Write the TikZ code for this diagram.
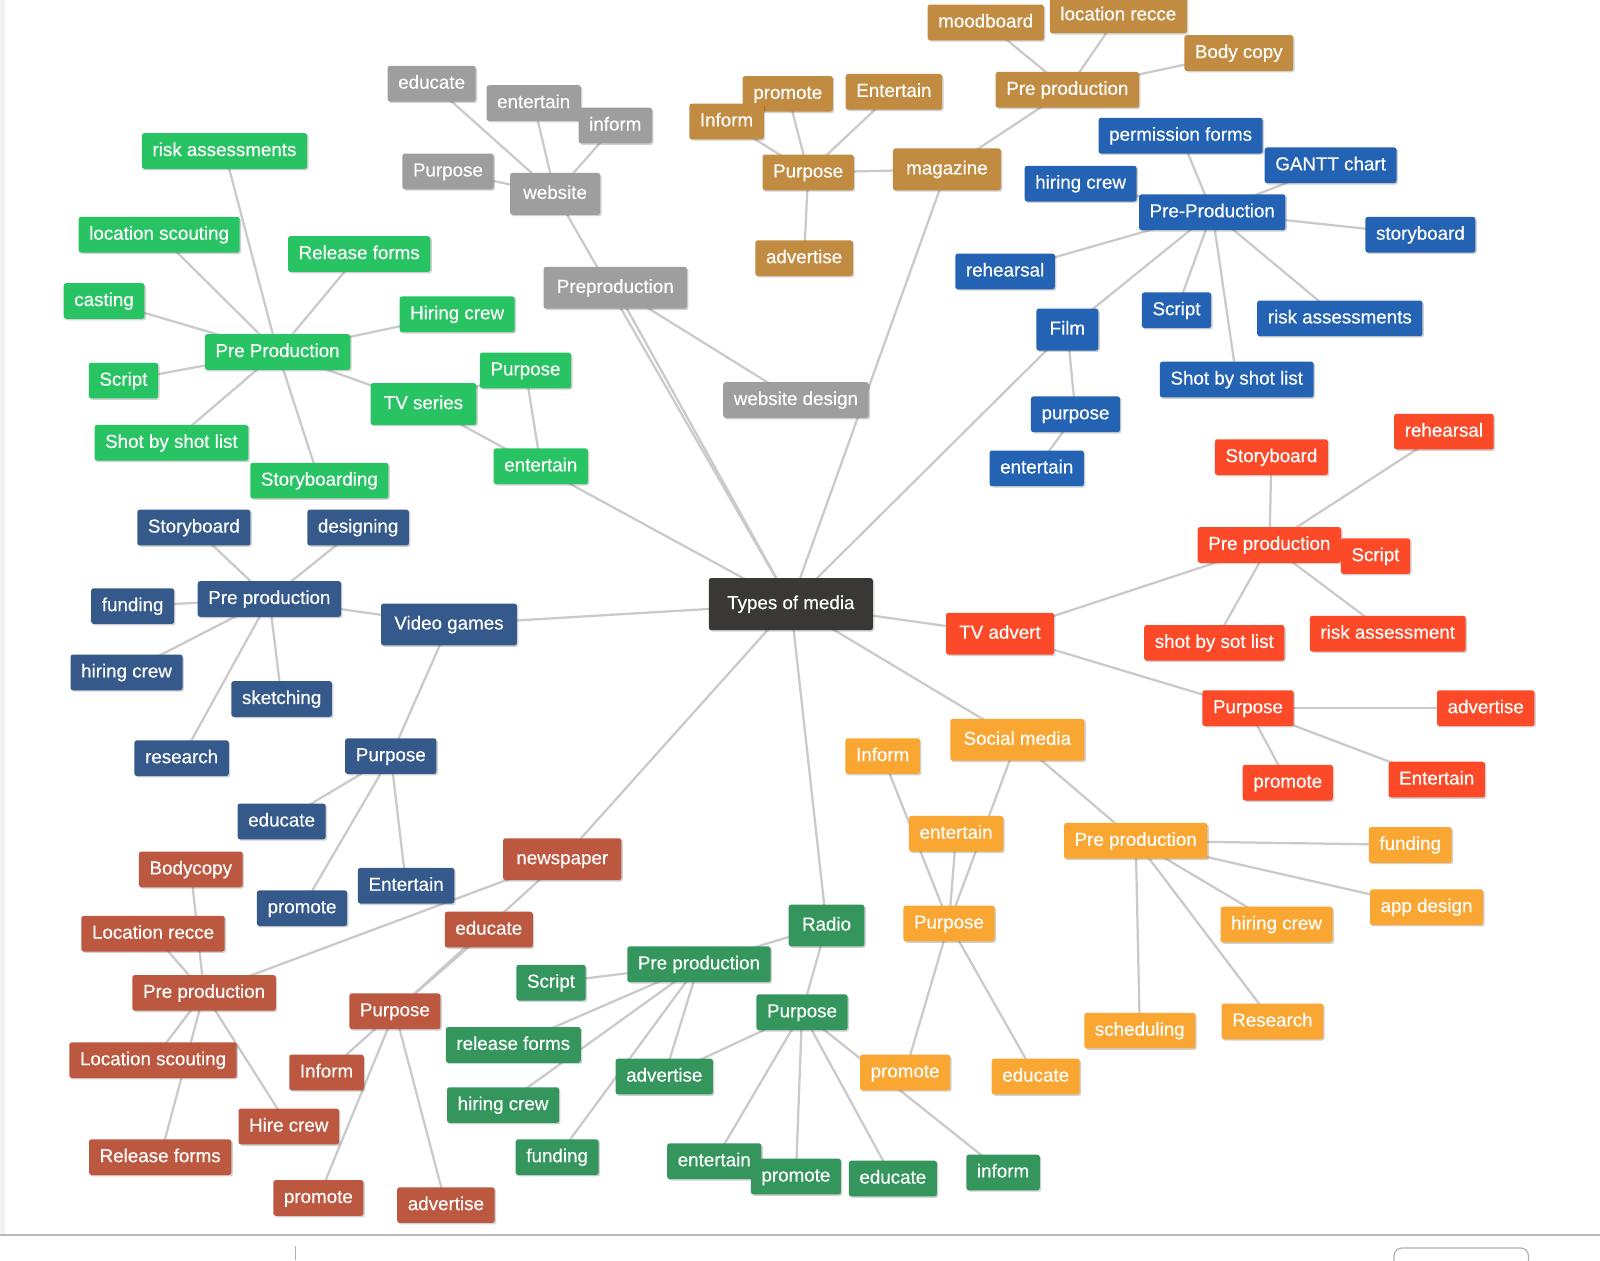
\documentclass[tikz,border=0pt]{standalone}
\usepackage{fontspec}
\setmainfont{Liberation Sans}
\newfontfamily\boxfont{Liberation Sans}[FakeBold=0.35]
\usetikzlibrary{shadows}
\definecolor{cGreen}{RGB}{40,195,98}
\definecolor{cGrey}{RGB}{158,158,158}
\definecolor{cTan}{RGB}{193,139,66}
\definecolor{cBlue}{RGB}{36,99,180}
\definecolor{cNavy}{RGB}{54,89,140}
\definecolor{cRed}{RGB}{252,74,40}
\definecolor{cOrange}{RGB}{250,166,50}
\definecolor{cBrown}{RGB}{189,88,64}
\definecolor{cDkGreen}{RGB}{52,150,92}
\definecolor{cCenter}{RGB}{58,55,55}
\definecolor{cEdge}{RGB}{202,202,202}
\pgfdeclarelayer{bg}
\pgfsetlayers{bg,main}
\tikzset{
  box/.style={rounded corners=1.2pt, text=white, font=\boxfont\fontsize{9.2pt}{11pt}\selectfont,
    inner xsep=5.2pt, inner ysep=0pt, minimum height=17.5pt, text height=6.8pt, text depth=1.9pt,
    drop shadow={shadow xshift=0.7pt, shadow yshift=-0.7pt, opacity=0.18, fill=black}},
  mid/.style={box, minimum height=20.5pt, inner xsep=6.5pt},
  rootbox/.style={box, minimum height=25.5pt, inner xsep=9pt},
  link/.style={draw=cEdge, line width=1.1pt},
  fgreen/.style={fill=cGreen}, fgrey/.style={fill=cGrey}, ftan/.style={fill=cTan},
  fblue/.style={fill=cBlue}, fnavy/.style={fill=cNavy}, fred/.style={fill=cRed},
  forange/.style={fill=cOrange}, fbrown/.style={fill=cBrown}, fdkgreen/.style={fill=cDkGreen}
}
\begin{document}
\begin{tikzpicture}[x=0.5pt,y=-0.5pt]
\useasboundingbox (0,0) rectangle (1568,1235);
\begin{pgfonlayer}{bg}
\fill[white] (0,0) rectangle (1568,1235);
\fill[gray!10] (0,0) rectangle (5,1210);
\draw[gray!55, line width=1pt] (0,1210) -- (1568,1210);
\draw[gray!60, line width=0.5pt] (290,1221) -- (290,1235);
\draw[gray!60, line width=0.6pt, rounded corners=4pt] (1366,1245) -- (1366,1223) -- (1498,1223) -- (1498,1245);
\end{pgfonlayer}

% centre
\node[rootbox, fill=cCenter] (tom) at (775,592) {Types of media};

% grey
\node[box,fgrey] (gEducate) at (423,82) {educate};
\node[box,fgrey] (gEntertain) at (523,101) {entertain};
\node[box,fgrey] (gInform) at (603,123) {inform};
\node[box,fgrey] (gPurpose) at (439,168) {Purpose};
\node[mid,fgrey] (gWebsite) at (544,190) {website};
\node[mid,fgrey] (gPrepro) at (603,282) {Preproduction};
\node[box,fgrey] (gWebdesign) at (780,392) {website design};

% tan
\node[box,ftan] (tMood) at (966,22) {moodboard};
\node[box,ftan] (tLocrecce) at (1096,15) {location recce};
\node[box,ftan] (tBody) at (1214,52) {Body copy};
\node[box,ftan] (tPrepro) at (1046,88) {Pre production};
\node[box,ftan] (tPromote) at (772,92) {promote};
\node[box,ftan] (tEntertain) at (876,90) {Entertain};
\node[box,ftan] (tInform) at (712,119) {Inform};
\node[box,ftan] (tPurpose) at (792,169) {Purpose};
\node[mid,ftan] (tMagazine) at (928,166) {magazine};
\node[box,ftan] (tAdvertise) at (788,253) {advertise};

% blue
\node[box,fblue] (bPermission) at (1157,133) {permission forms};
\node[box,fblue] (bGantt) at (1304,162) {GANTT chart};
\node[box,fblue] (bHiring) at (1059,180) {hiring crew};
\node[box,fblue] (bPrepro) at (1188,208) {Pre-Production};
\node[box,fblue] (bStoryboard) at (1392,230) {storyboard};
\node[box,fblue] (bRehearsal) at (985,266) {rehearsal};
\node[box,fblue] (bScript) at (1153,304) {Script};
\node[box,fblue] (bRisk) at (1313,312) {risk assessments};
\node[mid,fblue] (bFilm) at (1046,323) {Film};
\node[box,fblue] (bShot) at (1212,372) {Shot by shot list};
\node[box,fblue] (bPurpose) at (1054,406) {purpose};
\node[box,fblue] (bEntertain) at (1016,459) {entertain};

% red
\node[box,fred] (rRehearsal) at (1415,423) {rehearsal};
\node[box,fred] (rStoryboard) at (1246,448) {Storyboard};
\node[box,fred] (rPrepro) at (1244,534) {Pre production};
\node[box,fred] (rScript) at (1348,545) {Script};
\node[mid,fred] (rTV) at (980,621) {TV advert};
\node[box,fred] (rShot) at (1190,630) {shot by sot list};
\node[box,fred] (rRisk) at (1360,621) {risk assessment};
\node[box,fred] (rPurpose) at (1223,694) {Purpose};
\node[box,fred] (rAdvertise) at (1456,694) {advertise};
\node[box,fred] (rPromote) at (1262,767) {promote};
\node[box,fred] (rEntertain) at (1408,764) {Entertain};

% orange
\node[box,forange] (oInform) at (865,741) {Inform};
\node[mid,forange] (oSocial) at (997,725) {Social media};
\node[box,forange] (oEntertain) at (937,817) {entertain};
\node[box,forange] (oPrepro) at (1113,824) {Pre production};
\node[box,forange] (oFunding) at (1382,828) {funding};
\node[box,forange] (oApp) at (1398,889) {app design};
\node[box,forange] (oPurpose) at (930,905) {Purpose};
\node[box,forange] (oHiring) at (1251,906) {hiring crew};
\node[box,forange] (oScheduling) at (1117,1010) {scheduling};
\node[box,forange] (oResearch) at (1247,1001) {Research};
\node[box,forange] (oPromote) at (887,1051) {promote};
\node[box,forange] (oEducate) at (1015,1055) {educate};

% green
\node[box,fgreen] (grRisk) at (220,148) {risk assessments};
\node[box,fgreen] (grLocscout) at (156,230) {location scouting};
\node[box,fgreen] (grRelease) at (352,249) {Release forms};
\node[box,fgreen] (grCasting) at (102,295) {casting};
\node[box,fgreen] (grHiring) at (448,308) {Hiring crew};
\node[box,fgreen] (grPrepro) at (272,345) {Pre Production};
\node[box,fgreen] (grPurpose) at (515,363) {Purpose};
\node[box,fgreen] (grScript) at (121,373) {Script};
\node[mid,fgreen] (grTV) at (415,396) {TV series};
\node[box,fgreen] (grShot) at (168,434) {Shot by shot list};
\node[box,fgreen] (grEntertain) at (530,457) {entertain};
\node[box,fgreen] (grStory) at (313,471) {Storyboarding};

% navy
\node[box,fnavy] (nStoryboard) at (190,517) {Storyboard};
\node[box,fnavy] (nDesigning) at (351,517) {designing};
\node[box,fnavy] (nFunding) at (130,594) {funding};
\node[box,fnavy] (nPrepro) at (264,587) {Pre production};
\node[mid,fnavy] (nVideo) at (440,612) {Video games};
\node[box,fnavy] (nHiring) at (124,659) {hiring crew};
\node[box,fnavy] (nSketching) at (276,685) {sketching};
\node[box,fnavy] (nResearch) at (178,743) {research};
\node[box,fnavy] (nPurpose) at (383,741) {Purpose};
\node[box,fnavy] (nEducate) at (276,805) {educate};
\node[box,fnavy] (nPromote) at (296,890) {promote};
\node[box,fnavy] (nEntertain) at (398,868) {Entertain};

% brown
\node[box,fbrown] (brBody) at (187,852) {Bodycopy};
\node[mid,fbrown] (brNews) at (551,842) {newspaper};
\node[box,fbrown] (brLocrecce) at (150,915) {Location recce};
\node[box,fbrown] (brEducate) at (479,911) {educate};
\node[box,fbrown] (brPrepro) at (200,973) {Pre production};
\node[box,fbrown] (brPurpose) at (387,991) {Purpose};
\node[box,fbrown] (brLocscout) at (150,1039) {Location scouting};
\node[box,fbrown] (brInform) at (320,1051) {Inform};
\node[box,fbrown] (brHire) at (283,1104) {Hire crew};
\node[box,fbrown] (brRelease) at (157,1134) {Release forms};
\node[box,fbrown] (brPromote) at (312,1174) {promote};
\node[box,fbrown] (brAdvertise) at (437,1181) {advertise};

% dark green
\node[mid,fdkgreen] (dgRadio) at (810,907) {Radio};
\node[box,fdkgreen] (dgPrepro) at (685,945) {Pre production};
\node[box,fdkgreen] (dgScript) at (540,963) {Script};
\node[box,fdkgreen] (dgPurpose) at (786,992) {Purpose};
\node[box,fdkgreen] (dgRelease) at (503,1024) {release forms};
\node[box,fdkgreen] (dgAdvertise) at (651,1055) {advertise};
\node[box,fdkgreen] (dgHiring) at (493,1083) {hiring crew};
\node[box,fdkgreen] (dgFunding) at (546,1134) {funding};
\node[box,fdkgreen] (dgEntertain) at (700,1138) {entertain};
\node[box,fdkgreen] (dgPromote) at (780,1153) {promote};
\node[box,fdkgreen] (dgEducate) at (875,1155) {educate};
\node[box,fdkgreen] (dgInform) at (983,1149) {inform};

\begin{pgfonlayer}{bg}
\foreach \a/\b in {
  tom/nVideo, tom/grTV, tom/gPrepro, tom/gWebsite, tom/tMagazine, tom/bFilm,
  tom/rTV, tom/oSocial, tom/dgRadio, tom/brNews,
  gWebsite/gEducate, gWebsite/gEntertain, gWebsite/gInform, gWebsite/gPurpose, gPrepro/gWebdesign,
  tMagazine/tPurpose, tMagazine/tPrepro, tPurpose/tInform, tPurpose/tPromote, tPurpose/tEntertain,
  tPurpose/tAdvertise, tPrepro/tMood, tPrepro/tLocrecce, tPrepro/tBody,
  bFilm/bPrepro, bFilm/bPurpose, bPurpose/bEntertain, bPrepro/bPermission, bPrepro/bGantt,
  bPrepro/bStoryboard, bPrepro/bRisk, bPrepro/bShot, bPrepro/bScript, bPrepro/bRehearsal, bPrepro/bHiring,
  rTV/rPrepro, rTV/rPurpose, rPrepro/rStoryboard, rPrepro/rRehearsal, rPrepro/rScript, rPrepro/rShot,
  rPrepro/rRisk, rPurpose/rAdvertise, rPurpose/rPromote, rPurpose/rEntertain,
  oSocial/oPrepro, oSocial/oPurpose, oPurpose/oInform, oPurpose/oEntertain, oPurpose/oPromote,
  oPurpose/oEducate, oPrepro/oFunding, oPrepro/oApp, oPrepro/oHiring, oPrepro/oResearch, oPrepro/oScheduling,
  grTV/grPrepro, grTV/grPurpose, grPurpose/grEntertain, grPrepro/grRisk, grPrepro/grLocscout,
  grPrepro/grRelease, grPrepro/grCasting, grPrepro/grHiring, grPrepro/grScript, grPrepro/grShot, grPrepro/grStory,
  nVideo/nPrepro, nVideo/nPurpose, nPrepro/nStoryboard, nPrepro/nDesigning, nPrepro/nFunding,
  nPrepro/nHiring, nPrepro/nSketching, nPrepro/nResearch, nPurpose/nEducate, nPurpose/nPromote, nPurpose/nEntertain,
  brNews/brPrepro, brNews/brPurpose, brPurpose/brEducate, brPrepro/brBody, brPrepro/brLocrecce,
  brPrepro/brLocscout, brPrepro/brRelease, brPrepro/brHire, brPurpose/brInform, brPurpose/brPromote, brPurpose/brAdvertise,
  dgRadio/dgPrepro, dgRadio/dgPurpose, dgPrepro/dgScript, dgPrepro/dgRelease, dgPrepro/dgHiring,
  dgPrepro/dgAdvertise, dgPrepro/dgFunding, dgPurpose/dgAdvertise, dgPurpose/dgEntertain,
  dgPurpose/dgPromote, dgPurpose/dgEducate, dgPurpose/dgInform}
  \draw[link] (\a.center) -- (\b.center);
\end{pgfonlayer}
\end{tikzpicture}
\end{document}
